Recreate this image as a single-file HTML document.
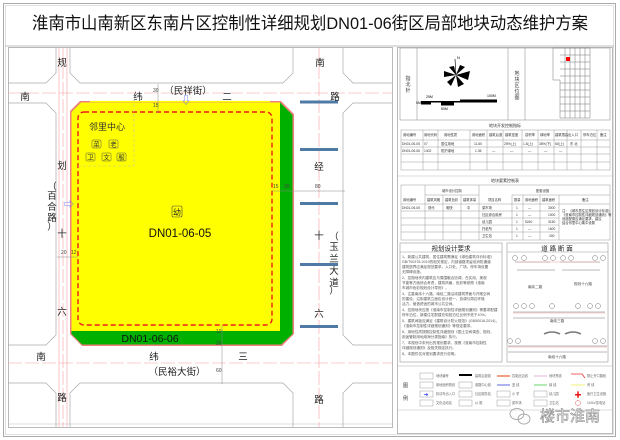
<!DOCTYPE html>
<html><head><meta charset="utf-8"><style>
html,body{margin:0;padding:0;background:#fff;width:620px;height:440px;overflow:hidden}
svg{display:block;font-family:"Liberation Sans","Noto Sans CJK SC",sans-serif}
</style></head><body>
<svg width="620" height="440" viewBox="0 0 620 440" xmlns="http://www.w3.org/2000/svg">
<rect x="0" y="0" width="620" height="440" fill="#fff"/>
<rect x="3.5" y="3.5" width="612" height="433" fill="none" stroke="#aaa" stroke-width="1"/>
<rect x="5.5" y="5.5" width="608" height="429" fill="none" stroke="#ccc" stroke-width="0.6"/>
<line x1="5" y1="46" x2="614" y2="46" stroke="#aaa" stroke-width="0.8"/>
<text x="310" y="29" font-size="17" text-anchor="middle" textLength="556" lengthAdjust="spacingAndGlyphs" fill="#111">淮南市山南新区东南片区控制性详细规划DN01-06街区局部地块动态维护方案</text>

<!-- map frame -->
<rect x="8.5" y="47.5" width="384" height="380" fill="#fff" stroke="#aaa" stroke-width="0.8"/>
<line x1="8" y1="424" x2="392" y2="424" stroke="#bbb" stroke-width="0.6"/>
<g fill="none" stroke="#aaa" stroke-width="0.7">
<path d="M8 83 H46 L56 73 V48"/>
<path d="M70 48 V73 L80 83 H283 L293 73 V48"/>
<path d="M343 48 V73 L353 83 H392"/>
<path d="M8 103 H46 L56 113 V335 L46 345 H8"/>
<path d="M343 113 L353 103 H392"/>
<path d="M343 113 V335 L353 345 H392"/>
<path d="M8 383 H46 L56 393 V427"/>
<path d="M70 427 V393 L80 383 H283 L293 393 V427"/>
<path d="M343 427 V393 L353 383 H392"/>
</g>
<g stroke="#f3a0a0" stroke-width="0.6" fill="none">
<line x1="8" y1="93" x2="392" y2="93" stroke-dasharray="14,3"/>
<line x1="8" y1="363" x2="392" y2="363" stroke-dasharray="14,3"/>
<line x1="63" y1="48" x2="63" y2="427" stroke-dasharray="14,3"/>
<line x1="319" y1="48" x2="319" y2="427" stroke-dasharray="14,3"/>
<line x1="59" y1="48" x2="59" y2="427"/>
<line x1="67" y1="48" x2="67" y2="427"/>
</g>
<!-- block -->
<polygon points="80,101 281,101 294,114 294,334 282,346 82,346 70,334 70,111" fill="#f08080"/>
<polygon points="81,102.5 280,102.5 292.5,115 292.5,334 281,344.5 82,344.5 71.5,334 71.5,112" fill="#00b000"/>
<polygon points="81,102.5 280,102.5 280,331 71.5,331 71.5,112" fill="#ffff00"/>
<line x1="90" y1="101.5" x2="270" y2="101.5" stroke="#ffff00" stroke-width="1.2"/>
<rect x="78" y="112" width="194" height="213" rx="6" fill="none" stroke="#ee1c1c" stroke-width="1.4" stroke-dasharray="5,3"/>
<path d="M78 166 H134 V102" fill="none" stroke="#c8c8a0" stroke-width="0.6" stroke-dasharray="3,2"/>
<text x="107" y="130" font-size="9" text-anchor="middle" fill="#333">邻里中心</text>
<g font-size="6.5" fill="#333" text-anchor="middle">
<rect x="92" y="140" width="9" height="8" fill="none" stroke="#555" stroke-width="0.5" rx="1"/><text x="96.5" y="146.5">菜</text>
<rect x="109" y="140" width="9" height="8" fill="none" stroke="#555" stroke-width="0.5" rx="1"/><text x="113.5" y="146.5">老</text>
<rect x="86" y="153" width="9" height="8" fill="none" stroke="#555" stroke-width="0.5" rx="1"/><text x="90.5" y="159.5">卫</text>
<rect x="102" y="153" width="9" height="8" fill="none" stroke="#555" stroke-width="0.5" rx="1"/><text x="106.5" y="159.5">文</text>
<rect x="117" y="153" width="9" height="8" fill="none" stroke="#555" stroke-width="0.5" rx="1"/><text x="121.5" y="159.5">服</text>
</g>
<rect x="172" y="206" width="10" height="11" fill="none" stroke="#444" stroke-width="0.6" rx="1.5"/>
<text x="177" y="215" font-size="8" text-anchor="middle" fill="#222">幼</text>
<text x="180" y="237" font-size="11.5" text-anchor="middle" fill="#111">DN01-06-05</text>
<text x="150" y="342" font-size="10.5" text-anchor="middle" fill="#111">DN01-06-06</text>
<text x="186" y="104" font-size="10" text-anchor="middle" fill="#5566ff">⇩</text>
<text x="69" y="208" font-size="10" text-anchor="middle" fill="#5566ff">⇨</text>
<!-- blue bars -->
<g fill="#4f7aa6">
<rect x="300" y="100.5" width="38" height="3"/>
<rect x="300" y="148" width="38" height="3"/>
<rect x="300" y="202" width="38" height="3"/>
<rect x="300" y="263" width="38" height="3"/>
<rect x="300" y="325" width="38" height="3"/>
</g>
<!-- dims -->
<g stroke="#888" stroke-width="0.5">
<line x1="158" y1="84" x2="158" y2="113"/>
<line x1="57" y1="257" x2="78" y2="257"/>
<line x1="272" y1="191" x2="345" y2="191"/>
<line x1="222" y1="325" x2="222" y2="384"/>
</g>
<g font-size="5" fill="#444">
<text x="153" y="92">30</text><text x="153" y="107">15</text>
<text x="61" y="254">20</text><text x="71" y="254">12</text>
<text x="273" y="188">15</text><text x="284" y="188">20</text><text x="315" y="188">80</text>
<text x="216" y="333">10</text><text x="216" y="345">20</text><text x="216" y="372">60</text>
</g>
<!-- map labels -->
<g font-size="9.5" fill="#222" text-anchor="middle">
<text x="62" y="66">规</text><text x="320" y="66">南</text>
<text x="25" y="100">南</text><text x="138" y="100">纬</text><text x="227" y="100">二</text><text x="335" y="100">路</text>
<text x="188" y="94">（民祥街）</text>
<text x="62" y="169">划</text><text x="319" y="170">经</text>
<text x="62" y="237">十</text><text x="319" y="239">十</text>
<text x="62" y="315">六</text><text x="319" y="317">六</text>
<text x="41" y="360">南</text><text x="154" y="360">纬</text><text x="243" y="360">三</text>
<text x="177" y="375">（民裕大街）</text>
<text x="62" y="401">路</text><text x="319" y="403">路</text>
<text x="52" y="190">（</text><text x="52" y="199">百</text><text x="52" y="210">合</text><text x="52" y="221">路</text><text x="52" y="230">）</text>
<text x="334" y="240">（</text><text x="334" y="250">玉</text><text x="334" y="262">兰</text><text x="334" y="274">大</text><text x="334" y="286">道</text><text x="334" y="294">）</text>
</g>

<!-- right panel -->
<rect x="397.5" y="47.5" width="215" height="386" fill="none" stroke="#aaa" stroke-width="0.8"/>
<g fill="none" stroke="#999" stroke-width="0.6">
<rect x="400" y="48" width="210" height="72"/>
<line x1="417" y1="48" x2="417" y2="120"/><line x1="508" y1="48" x2="508" y2="120"/><line x1="525" y1="48" x2="525" y2="120"/>
</g>
<g font-size="5" fill="#333" text-anchor="middle">
<text x="408" y="80">指</text><text x="408" y="86">北</text><text x="408" y="92">针</text>
<text x="517" y="75">地</text><text x="517" y="81">块</text><text x="517" y="87">区</text><text x="517" y="93">位</text><text x="517" y="99">图</text>
</g>
<!-- compass -->
<g transform="translate(456,75)">
<path d="M0 0 L14 -4 L12 5 Z M0 0 L8 9 L2 12 Z M0 0 L-5 11 L-9 7 Z M0 0 L-12 2 L-12 -4 Z M0 0 L-7 -8 L-2 -9 Z M0 0 L4 -10 L9 -8 Z" fill="#000"/>
<line x1="0" y1="0" x2="-1" y2="-16" stroke="#000" stroke-width="0.6"/>
<text x="1" y="-16" font-size="4">N</text>
</g>
<g>
<rect x="421" y="101" width="76" height="1.5" fill="#000"/>
<rect x="421" y="102.5" width="10" height="2" fill="#000"/><rect x="441" y="102.5" width="13" height="3" fill="#000"/><rect x="460" y="99.5" width="37" height="3" fill="#000"/>
<text x="426" y="98" font-size="3.5">25M</text><text x="487" y="97" font-size="3.5">100M</text><text x="441" y="110" font-size="3.5">50M</text><text x="416" y="104" font-size="3.5">0M</text>
</g>
<!-- location map -->
<g fill="none" stroke="#777" stroke-width="0.5">
<path d="M555 48 H590 V118 H560 V80 H553 V48 Z"/>
<path d="M560 55 H590 M560 62 H590 M560 69 H590 M560 76 H590 M560 83 H590 M560 90 H590 M560 97 H590 M560 104 H590 M560 111 H590"/>
<path d="M565 48 V118 M570 48 V118 M575 48 V118 M580 48 V118 M585 48 V118"/>
</g>
<rect x="566" y="57" width="4" height="4" fill="#ff0000"/>

<!-- table 1 -->
<text x="505" y="127" font-size="4" text-anchor="middle" fill="#333">地块开发控制指标</text>
<g fill="none" stroke="#999" stroke-width="0.5">
<rect x="401" y="130" width="209" height="40"/>
<line x1="401" y1="140" x2="610" y2="140"/><line x1="401" y1="147" x2="610" y2="147"/><line x1="401" y1="154" x2="610" y2="154"/><line x1="401" y1="162" x2="610" y2="162"/>
<path d="M423 130V170M438 130V170M470 130V170M487 130V170M503 130V170M522 130V170M538 130V170M554 130V170M567 130V170M581 130V170M597 130V170"/>
</g>
<g font-size="3.3" fill="#333">
<text x="403" y="136">用地编号</text><text x="424" y="136">用地代码</text><text x="444" y="136">用地性质</text><text x="472" y="136">用地面积</text><text x="489" y="136">建筑后退</text><text x="505" y="136">建筑密度</text><text x="525" y="136">容积率</text><text x="540" y="136">绿地率</text><text x="555" y="136">建筑限高</text><text x="568" y="136">出入口</text><text x="583" y="136">停车泊位</text><text x="600" y="136">备注</text>
<text x="402" y="145">DN01-06-05</text><text x="424" y="145">07</text><text x="441" y="145">居住用地</text><text x="474" y="145">11.60</text><text x="504" y="145">25%(上)</text><text x="523" y="145">1.8(上)</text><text x="539" y="145">38%(下)</text><text x="555" y="145">60(上)</text><text x="570" y="145">东 北</text>
<text x="402" y="152">DN01-06-06</text><text x="424" y="152">1402</text><text x="441" y="152">防护绿地</text><text x="475" y="152">1.36</text><text x="492" y="152">—</text><text x="510" y="152">—</text><text x="528" y="152">—</text><text x="544" y="152">—</text><text x="559" y="152">—</text>
</g>

<!-- table 2 -->
<line x1="398" y1="176" x2="612" y2="176" stroke="#bbb" stroke-width="0.5"/>
<text x="505" y="182" font-size="4" text-anchor="middle" fill="#333">地块要素控制表</text>
<g fill="none" stroke="#999" stroke-width="0.5">
<rect x="401" y="185" width="209" height="55"/>
<line x1="425" y1="195" x2="479" y2="195"/><line x1="512" y1="195" x2="610" y2="195"/>
<line x1="401" y1="204" x2="610" y2="204"/>
<path d="M401 211H559M401 218H559M401 225H559M401 232H559"/>
<path d="M425 185V240M443 195V240M461 195V240M479 185V240M512 195V240M523 195V240M540 195V240M559 195V240"/>
</g>
<g font-size="3.3" fill="#333">
<text x="442" y="192">城市设计控制</text><text x="536" y="192">配套设施</text>
<text x="403" y="201">用地编号</text><text x="427" y="201">建筑风格</text><text x="445" y="201">建筑色彩</text><text x="463" y="201">建筑体量</text><text x="488" y="201">项目名称</text><text x="514" y="201">数量</text><text x="525" y="201">用地面积</text><text x="542" y="201">建筑面积</text><text x="582" y="201">备注</text>
<text x="402" y="209">DN01-06-05</text><text x="428" y="209">现代</text><text x="446" y="209">明快</text><text x="467" y="209">中</text>
<text x="482" y="209">菜市场</text><text x="516" y="209">1</text><text x="528" y="209">—</text><text x="548" y="209">3000</text>
<text x="482" y="216">社区综合用房</text><text x="516" y="216">1</text><text x="528" y="216">—</text><text x="548" y="216">1000</text>
<text x="482" y="223">幼儿园</text><text x="516" y="223">1</text><text x="525" y="223">5240</text><text x="548" y="223">3150</text>
<text x="482" y="230">托老所</text><text x="516" y="230">1</text><text x="528" y="230">—</text><text x="548" y="230">1600</text>
<text x="482" y="237">卫生站</text><text x="516" y="237">1</text><text x="528" y="237">—</text><text x="549" y="237">400</text>
<text x="562" y="212">注：《城市居住区规划设计标准》</text><text x="562" y="216">《淮南市控制性详细规划通则》等</text><text x="562" y="220">设施配置应满足要求，建议</text><text x="562" y="224">结合邻里中心集中设置</text>
</g>

<!-- requirements -->
<g fill="none" stroke="#999" stroke-width="0.6">
<rect x="400" y="243" width="102" height="119"/>
<line x1="400" y1="252" x2="502" y2="252"/>
<rect x="507" y="243" width="101" height="119"/>
<line x1="507" y1="252" x2="608" y2="252"/>
</g>
<text x="451" y="250.5" font-size="6.5" text-anchor="middle" fill="#222">规划设计要求</text>
<text x="557" y="250.5" font-size="6.5" text-anchor="middle" fill="#222">道 路 断 面</text>
<g font-size="3.6" fill="#555">
<text x="402" y="258">1、新建公共建筑，居住建筑需满足《绿色建筑评价标准》</text>
<text x="402" y="263">GB/T50378-2019的相关规定，内部道路须留设消防通道</text>
<text x="402" y="268">建筑退界应满足规范要求，入口处、广场、停车场设置</text>
<text x="402" y="273">无障碍设施。</text>
<text x="402" y="279">2、控规地块内建筑应与周围融合协调，在实用，美观</text>
<text x="402" y="284">节能等方面综合考虑，建筑风格，色彩等参照《淮南</text>
<text x="402" y="289">市城市色彩规划设计导则》。</text>
<text x="402" y="295">3、注重南纬十六路、南经二路沿线建筑界面与开敞空间</text>
<text x="402" y="300">的建设，沿街建筑立面应设计统一，协调与周边环境</text>
<text x="402" y="305">活力，营造舒适的城市公共空间。</text>
<text x="402" y="311">4、控规地块应按《淮南市控制性详细规划通则》等要求配建</text>
<text x="402" y="316">停车泊位，新建住宅配建充电桩泊位比例不低于10%。</text>
<text x="402" y="322">5、建筑间距应满足《建筑设计防火规范》(GB50016-2014)，</text>
<text x="402" y="327">《淮南市控制性详细规划通则》等规定要求。</text>
<text x="402" y="333">6、用地性质按照控制性详细规划《国土空间调查、规划、</text>
<text x="402" y="338">用途管制用地用海分类指南》执行。</text>
<text x="402" y="344">7、本规划中未列出的规划要求，按照《淮南市控制性</text>
<text x="402" y="349">详细规划通则》及相关规定执行。</text>
<text x="402" y="355">8、本图件仅对规划要求进行说明。</text>
</g>
<!-- road sections -->
<g fill="none" stroke="#777" stroke-width="0.5">
<path d="M515 262 H550 M560 262 H600 M517 270 H555 M562 270 H600"/>
<circle cx="515" cy="258" r="2.5"/><circle cx="524" cy="258" r="2.5"/><circle cx="545" cy="258" r="2.5"/><circle cx="553" cy="258" r="2.5"/>
<circle cx="563" cy="258" r="2.5"/><circle cx="571" cy="258" r="2.5"/><circle cx="595" cy="258" r="2.5"/><circle cx="603" cy="258" r="2.5"/>
<path d="M513 312 H605 M513 318 H605"/>
<circle cx="516" cy="306" r="2.5"/><circle cx="524" cy="306" r="2.5"/><circle cx="532" cy="306" r="2.5"/><circle cx="552" cy="306" r="2.5"/><circle cx="578" cy="306" r="2.5"/><circle cx="590" cy="306" r="2.5"/><circle cx="598" cy="306" r="2.5"/>
<path d="M508 346 H607 M508 352 H607"/>
<circle cx="510" cy="341" r="2.5"/><circle cx="518" cy="341" r="2.5"/><circle cx="595" cy="341" r="2.5"/><circle cx="603" cy="341" r="2.5"/>
</g>
<path d="M544 334 Q552 330 560 334 M565 334 Q573 330 581 334" stroke="#777" stroke-width="1.5" fill="none"/>
<line x1="517" y1="262" x2="598" y2="262" stroke="#f3a0a0" stroke-width="0.5"/>
<line x1="513" y1="313" x2="605" y2="313" stroke="#f3a0a0" stroke-width="0.5"/>
<line x1="508" y1="347" x2="607" y2="347" stroke="#f3a0a0" stroke-width="0.5"/>
<g font-size="3.6" fill="#444" text-anchor="middle">
<text x="535" y="288">南纬二路</text><text x="583" y="285">规划十六路</text>
<text x="557" y="322">南纬三路</text><text x="557" y="358">南经十六路</text>
</g>

<!-- legend -->
<line x1="398" y1="366" x2="612" y2="366" stroke="#aaa" stroke-width="0.5"/>
<line x1="398" y1="410" x2="612" y2="410" stroke="#bbb" stroke-width="0.5"/>
<g font-size="5" fill="#333"><text x="403" y="387">图</text><text x="403" y="400">例</text></g>
<g fill="none" stroke="#888" stroke-width="0.4">
<rect x="420" y="373" width="13" height="6"/><rect x="420" y="382" width="13" height="6"/><rect x="420" y="391" width="13" height="6"/><rect x="420" y="400" width="13" height="6"/>
<rect x="459" y="382" width="13" height="6"/><rect x="459" y="391" width="13" height="6"/><rect x="459" y="400" width="13" height="6"/>
<rect x="497" y="391" width="13" height="6"/><rect x="497" y="400" width="13" height="6"/>
<rect x="534" y="391" width="13" height="6"/><rect x="534" y="400" width="13" height="6"/>
</g>
<rect x="459" y="374" width="13" height="2" fill="#000"/>
<line x1="497" y1="376" x2="510" y2="376" stroke="#f0a080" stroke-width="2"/>
<line x1="497" y1="385" x2="510" y2="385" stroke="#3344dd" stroke-width="0.8"/>
<line x1="534" y1="376" x2="547" y2="376" stroke="#e0a0e0" stroke-width="0.8"/>
<line x1="534" y1="385" x2="547" y2="385" stroke="#44cc44" stroke-width="0.8"/>
<path d="M571 374 H582 L585 378" stroke="#ee3333" stroke-width="0.8" fill="none"/>
<line x1="571" y1="385" x2="585" y2="385" stroke="#eeee55" stroke-width="0.8"/>
<text x="578" y="397" font-size="7" fill="#ee1111" text-anchor="middle">✚</text>
<circle cx="578" cy="403" r="2.5" fill="none" stroke="#ee5555" stroke-width="0.5"/>
<text x="426" y="396.5" font-size="6" fill="#3344ff" text-anchor="middle">➜</text>
<g font-size="3.2" fill="#666">
<text x="436" y="377">地块编号</text><text x="436" y="386">用地面积规划</text><text x="436" y="395">机动车出入口</text><text x="436" y="404">文化活动站</text>
<text x="475" y="377">建筑后退线</text><text x="475" y="386">道路中心线</text><text x="475" y="395">社区服务站</text><text x="475" y="404">公 厕</text>
<text x="512" y="377">控制此边线</text><text x="512" y="386">蓝 线</text><text x="512" y="395">小 学</text><text x="512" y="404">菜市场</text>
<text x="549" y="377">地块界线</text><text x="549" y="386">绿 线</text><text x="549" y="395">幼儿园</text><text x="549" y="404">卫生站</text>
<text x="587" y="377">禁止开口路段</text><text x="587" y="386">黄 线</text><text x="587" y="395">医疗卫生设施</text><text x="587" y="404">110kV变电站</text>
</g>
<!-- watermark -->
<g fill="none" stroke="#999" stroke-width="0.8">
<ellipse cx="517" cy="414" rx="7" ry="5.5"/><ellipse cx="524" cy="419" rx="6" ry="5"/>
</g>
<text x="570" y="421" font-size="15" text-anchor="middle" fill="#fff" stroke="#888" stroke-width="0.6">楼市淮南</text>
</svg>
</body></html>
